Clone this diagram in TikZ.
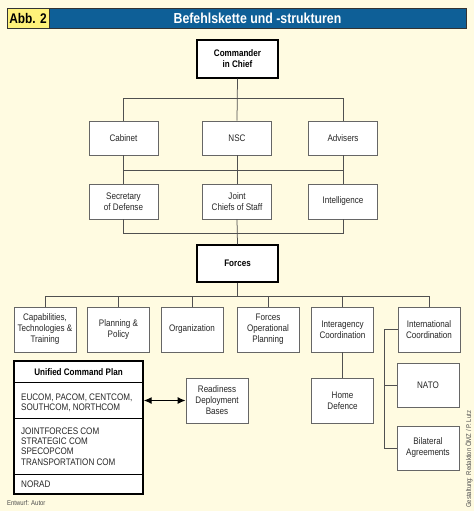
\documentclass[tikz,border=0pt]{standalone}
\usepackage{fontspec}
\setmainfont{Liberation Sans}[FakeStretch=0.85]
\usetikzlibrary{arrows.meta}
\definecolor{bg}{HTML}{FFFBE1}
\definecolor{barblue}{HTML}{0E5F97}
\definecolor{abbyellow}{HTML}{FFF27A}
\definecolor{boxline}{HTML}{666666}
\definecolor{connline}{HTML}{505050}
\begin{document}
\begin{tikzpicture}[x=1pt,y=-1pt,
  box/.style={draw=boxline, line width=0.75pt, fill=white, align=center,
    font=\fontsize{9.5}{11}\selectfont, text=black!85, inner sep=1pt},
  boss/.style={draw=black, line width=1.3pt, fill=white, align=center,
    font=\fontsize{9.5}{11}\selectfont\bfseries, inner sep=1pt},
  rowA/.style={box, minimum width=69pt, minimum height=34pt},
  rowC/.style={box, minimum width=62pt, minimum height=45pt},
  conn/.style={draw=connline, line width=0.75pt},
  listtext/.style={anchor=west, align=left, inner sep=0pt,
    font=\fontsize{9.5}{10.3}\selectfont, text=black!85},
  credit/.style={inner sep=0pt, font=\fontsize{7}{8}\selectfont, text=black!70}
]
\fill[bg] (0,0) rectangle (474,511);
\useasboundingbox (0,0) rectangle (474,511);

% title bar
\node[draw=black!80, line width=0.7pt, fill=abbyellow, minimum width=42pt, minimum height=20pt,
  inner sep=0pt, font=\fontsize{14}{16}\selectfont\bfseries] (abb) at (28,18) {Abb. 2};
\node[draw=black!80, line width=0.7pt, fill=barblue, minimum width=417pt, minimum height=20pt,
  inner sep=0pt, text=white, font=\fontsize{14.5}{16}\selectfont\bfseries] (title) at (257.5,18) {Befehlskette und -strukturen};

% top chain
\node[boss, minimum width=81pt, minimum height=38pt] (cic) at (237.5,59) {Commander\\in Chief};

\node[rowA] (cab) at (123.5,138) {Cabinet};
\node[rowA] (nsc) at (237,138) {NSC};
\node[rowA] (adv) at (343,138) {Advisers};

\node[rowA, minimum height=35pt] (sec) at (123.5,201.5) {Secretary\\of Defense};
\node[rowA, minimum height=35pt] (jcs) at (237,201.5) {Joint\\Chiefs of Staff};
\node[rowA, minimum height=35pt] (int) at (343,201.5) {Intelligence};

\node[boss, minimum width=81pt, minimum height=37pt] (forces) at (237.5,263.5) {Forces};

\coordinate (busA) at (237,98);
\coordinate (busB) at (237,170);
\coordinate (busC) at (237,233);
\coordinate (busD) at (237,296);

\draw[conn] (cic.south) -- (nsc.north);
\draw[conn] (cab.north) -- (cab.north |- busA) -- (adv.north |- busA) -- (adv.north);

\draw[conn] (cab.south) -- (sec.north);
\draw[conn] (nsc.south) -- (jcs.north);
\draw[conn] (adv.south) -- (int.north);
\draw[conn] (cab.south |- busB) -- (adv.south |- busB);

\draw[conn] (sec.south) -- (sec.south |- busC) -- (int.south |- busC) -- (int.south);
\draw[conn] (jcs.south) -- (forces.north);

% third row
\node[rowC] (cap) at (45,329.5) {Capabilities,\\Technologies \&\\Training};
\node[rowC] (pol) at (118.5,329.5) {Planning \&\\Policy};
\node[rowC] (org) at (192,329.5) {Organization};
\node[rowC] (fop) at (268,329.5) {Forces\\Operational\\Planning};
\node[rowC] (iac) at (342.5,329.5) {Interagency\\Coordination};
\node[rowC] (icd) at (429,329.5) {International\\Coordination};

\draw[conn] (forces.south) -- (forces.south |- busD);
\draw[conn] (cap.north) -- (cap.north |- busD) -- (icd.north |- busD) -- (icd.north);
\foreach \n in {pol,org,fop,iac} { \draw[conn] (\n.north) -- (\n.north |- busD); }

% right branches
\node[rowC] (home) at (342.5,400.5) {Home\\Defence};
\node[rowC, minimum height=44pt] (nato) at (428,385) {NATO};
\node[rowC, minimum height=44pt] (bil) at (428,448) {Bilateral\\Agreements};

\draw[conn] (iac.south) -- (home.north);
\coordinate (icdx) at (384,329.5);
\draw[conn] (icd.west) -- (icdx) -- (icdx |- bil.west) -- (bil.west);
\draw[conn] (icdx |- nato.west) -- (nato.west);

% unified command plan
\node[draw=black, line width=1.3pt, fill=white, minimum width=129pt, minimum height=133pt, inner sep=0pt] (ucp) at (78.5,427.5) {};
\draw[black, line width=0.9pt] (ucp.west |- 0,382) -- (ucp.east |- 0,382);
\draw[black, line width=0.9pt] (ucp.west |- 0,418) -- (ucp.east |- 0,418);
\draw[black, line width=0.9pt] (ucp.west |- 0,474) -- (ucp.east |- 0,474);
\node[inner sep=0pt, font=\fontsize{9.5}{11}\selectfont\bfseries] (ucpt) at (78.5,372) {Unified Command Plan};
\node[listtext] (ucpa) at (21,402.5) {EUCOM, PACOM, CENTCOM,\\SOUTHCOM, NORTHCOM};
\node[listtext] (ucpb) at (21,446.5) {JOINTFORCES COM\\STRATEGIC COM\\SPECOPCOM\\TRANSPORTATION COM};
\node[listtext] (ucpc) at (21,484.5) {NORAD};

\node[rowC] (rdb) at (217,400.5) {Readiness\\Deployment\\Bases};
\draw[black, line width=1.3pt, {Latex[length=8pt,width=7pt]}-{Latex[length=8pt,width=7pt]}] (ucp.east |- rdb.west) -- (rdb.west);

% credits
\node[credit, anchor=west] (entw) at (7,503) {Entwurf: Autor};
\node[credit, anchor=west, rotate=90] (gest) at (469,508) {Gestaltung: Redaktion ÖMZ / P. Lutz};
\end{tikzpicture}
\end{document}
